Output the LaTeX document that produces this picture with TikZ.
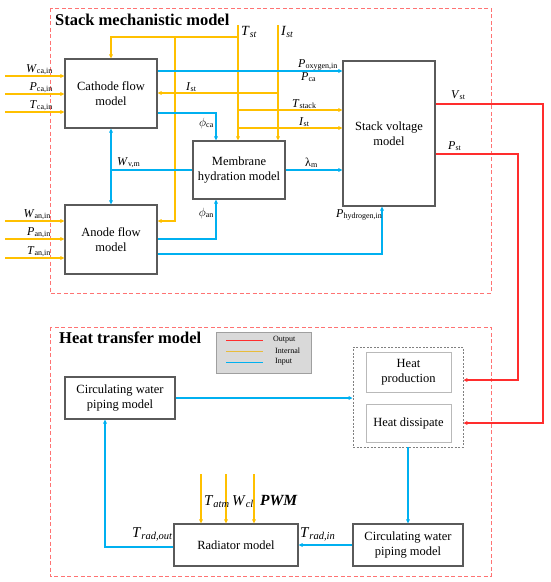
\documentclass[tikz,border=0pt]{standalone}
\usepackage{fontspec}
\setmainfont{Liberation Serif}
\usetikzlibrary{arrows.meta}
\definecolor{ylw}{RGB}{255,192,0}
\definecolor{legylw}{RGB}{232,188,60}
\definecolor{blu}{RGB}{0,176,240}
\definecolor{outred}{RGB}{255,45,45}
\definecolor{framered}{RGB}{255,115,115}
\definecolor{boxgray}{RGB}{90,90,90}
\newcommand{\vsub}[2]{\textit{#1}\textsubscript{#2}}
\newcommand{\isub}[2]{\textit{#1}\textsubscript{\textit{#2}}}
\tikzset{
	model/.style={draw=boxgray, line width=1.1pt, fill=white, align=center, inner sep=0pt, font=\fontsize{12.5}{14.5}\selectfont},
	heat/.style={draw=gray!55, line width=1pt, align=center, inner sep=0pt, minimum width=85pt, font=\fontsize{12.5}{14.5}\selectfont},
	zone/.style={draw=framered, line width=0.9pt, dash pattern=on 4pt off 2.5pt},
	ylwln/.style={ylw, line width=1.1pt},
	bluln/.style={blu, line width=1.1pt},
	redln/.style={outred, line width=1.1pt},
	arr/.style={-{Triangle[length=4pt,width=3.6pt]}},
	arrboth/.style={{Triangle[length=4pt,width=3.6pt]}-{Triangle[length=4pt,width=3.6pt]}},
	lab/.style={inner sep=0pt, font=\fontsize{12}{12}\selectfont},
	biglab/.style={inner sep=0pt, font=\fontsize{15}{15}\selectfont},
	heading/.style={inner sep=0pt, anchor=west, font=\fontsize{16.5}{16.5}\selectfont\bfseries},
	legtext/.style={inner sep=0pt, anchor=west, font=\fontsize{8}{8}\selectfont}
}
\begin{document}
\begin{tikzpicture}[x=1pt,y=-1pt]
	\useasboundingbox (0,0) rectangle (550,582);
	\draw[zone] (50,8) rectangle (491,293);
	\draw[zone] (50,327) rectangle (491,576);
	\node[heading] (ttop) at (55,20) {Stack mechanistic model};
	\node[heading] (tbot) at (59,338) {Heat transfer model};

	\node[model, minimum width=92pt, minimum height=69pt] (cath) at (111,93.5) {Cathode flow\\model};
	\node[model, minimum width=92pt, minimum height=69pt] (anod) at (111,239.5) {Anode flow\\model};
	\node[model, minimum width=92pt, minimum height=58pt] (memb) at (239,170) {Membrane\\hydration model};
	\node[model, minimum width=92pt, minimum height=145pt] (stk) at (389,133.5) {Stack voltage\\model};

	\coordinate (wcain) at (5,76);
	\coordinate (pcain) at (5,94);
	\coordinate (tcain) at (5,112);
	\coordinate (wanin) at (5,221);
	\coordinate (panin) at (5,239);
	\coordinate (tanin) at (5,258);
	\draw[ylwln, arr] (wcain) -- (cath.west |- wcain);
	\draw[ylwln, arr] (pcain) -- (cath.west |- pcain);
	\draw[ylwln, arr] (tcain) -- (cath.west |- tcain);
	\draw[ylwln, arr] (wanin) -- (anod.west |- wanin);
	\draw[ylwln, arr] (panin) -- (anod.west |- panin);
	\draw[ylwln, arr] (tanin) -- (anod.west |- tanin);
	\node[lab, anchor=base east] (lwcain) at (53,72) {\vsub{W}{ca,in}};
	\node[lab, anchor=base east] (lpcain) at (53,90) {\vsub{P}{ca,in}};
	\node[lab, anchor=base east] (ltcain) at (53,108) {\vsub{T}{ca,in}};
	\node[lab, anchor=base east] (lwanin) at (51,217) {\vsub{W}{an,in}};
	\node[lab, anchor=base east] (lpanin) at (51,235) {\vsub{P}{an,in}};
	\node[lab, anchor=base east] (ltanin) at (51,254) {\vsub{T}{an,in}};

	\coordinate (tst) at (238,25);
	\coordinate (ist) at (278,25);
	\coordinate (jan) at (175,37);
	\node[lab, anchor=base west, font=\fontsize{14}{14}\selectfont] (ltst) at (241,35) {\isub{T}{st}};
	\node[lab, anchor=base west, font=\fontsize{14}{14}\selectfont] (list) at (281,35) {\isub{I}{st}};
	\draw[ylwln, arr] (tst) -- (tst |- memb.north);
	\draw[ylwln, arr] (ist) -- (ist |- memb.north);
	\draw[ylwln, arr] (tst |- jan) -| (cath.north);
	\draw[ylwln, arr] (jan) |- (anod.east |- wanin);
	\draw[ylwln, arr] (ist |- 0,93) -- (cath.east |- 0,93);
	\draw[ylwln, arr] (tst |- 0,110) -- (stk.west |- 0,110);
	\draw[ylwln, arr] (tst |- 0,128) -- (stk.west |- 0,128);
	\node[lab, anchor=base west] (list2) at (186,90) {\vsub{I}{st}};
	\node[lab, anchor=base west] (ltstk) at (292,107) {\vsub{T}{stack}};
	\node[lab, anchor=base west] (list3) at (299,125) {\vsub{I}{st}};

	\draw[bluln, arr] (cath.east |- 0,71) -- (stk.west |- 0,71);
	\draw[bluln, arr] (cath.east |- 0,113) -| (memb.north -| 216,0);
	\draw[bluln, arr] (anod.east |- panin) -| (memb.south -| 216,0);
	\draw[bluln, arr] (anod.east |- 0,254) -| (stk.south -| 382,0);
	\draw[bluln, arrboth] (cath.south) -- (anod.north);
	\draw[bluln] (memb.west) -- (cath.south |- memb.west);
	\draw[bluln, arr] (memb.east) -- (stk.west |- memb.east);
	\node[lab, anchor=base west] (lpox) at (298,67) {\vsub{P}{oxygen,in}};
	\node[lab, anchor=base west] (lpca) at (301,80) {\vsub{P}{ca}};
	\node[lab, anchor=base east] (lphica) at (214,126) {$\phi$\textsubscript{ca}};
	\node[lab, anchor=base east] (lphian) at (214,216) {$\phi$\textsubscript{an}};
	\node[lab, anchor=base west] (lwvm) at (117,165) {\vsub{W}{v,m}};
	\node[lab, anchor=base west] (llam) at (305,166) {λ\textsubscript{m}};
	\node[lab, anchor=base west] (lph2) at (336,217) {\vsub{P}{hydrogen,in}};

	\node[draw=gray, line width=0.8pt, dash pattern=on 2pt off 1.5pt, minimum width=110pt, minimum height=100pt, inner sep=0pt] (grp) at (408,397) {};
	\node[heat, minimum height=40pt] (hprod) at (408.5,372) {Heat\\production};
	\node[heat, minimum height=38pt] (hdis) at (408.5,423) {Heat dissipate};
	\node[model, minimum width=110pt, minimum height=42pt] (circl) at (120,398) {Circulating water\\piping model};
	\node[model, minimum width=110pt, minimum height=42pt] (circr) at (408,545) {Circulating water\\piping model};
	\node[model, minimum width=124pt, minimum height=42pt] (rad) at (236,545) {Radiator model};

	\draw[redln, arr] (stk.east |- 0,104) -| (543,300) |- (grp.east |- hdis);
	\draw[redln, arr] (stk.east |- 0,154) -| (518,300) |- (grp.east |- 0,380);
	\node[lab, anchor=base west] (lvst) at (451,98) {\vsub{V}{st}};
	\node[lab, anchor=base west] (lpst) at (448,149) {\vsub{P}{st}};

	\draw[bluln, arr] (circl.east) -- (grp.west |- circl.east);
	\draw[bluln, arr] (grp.south) -- (circr.north);
	\draw[bluln, arr] (circr.west) -- (rad.east |- circr.west);
	\draw[bluln, arr] (rad.west |- 0,547) -| (circl.south -| 105,0);
	\node[biglab, anchor=base west] (ltrin) at (300,537) {\isub{T}{rad,in}};
	\node[biglab, anchor=base east] (ltrout) at (173,537) {\isub{T}{rad,out}};

	\coordinate (tatm) at (201,474);
	\coordinate (wcl) at (226,474);
	\coordinate (pwm) at (254,474);
	\draw[ylwln, arr] (tatm) -- (rad.north -| tatm);
	\draw[ylwln, arr] (wcl) -- (rad.north -| wcl);
	\draw[ylwln, arr] (pwm) -- (rad.north -| pwm);
	\node[biglab, anchor=base west] (ltatm) at (204,505) {\isub{T}{atm}};
	\node[biglab, anchor=base west] (lwcl) at (232,505) {\isub{W}{cl}};
	\node[biglab, anchor=base west, font=\fontsize{15.5}{15.5}\selectfont\bfseries\itshape] (lpwm) at (260,505) {PWM};

	\node[draw=gray!75, fill=gray!30, line width=0.8pt, minimum width=95pt, minimum height=41pt, inner sep=0pt] (leg) at (263.5,352.5) {};
	\draw[outred, line width=1pt] (226,340) -- (263,340);
	\draw[legylw, line width=1pt] (226,351) -- (263,351);
	\draw[blu, line width=1pt] (226,362) -- (263,362);
	\node[legtext] (lout) at (273,340) {Output};
	\node[legtext] (lint) at (275,351) {Internal};
	\node[legtext] (linp) at (275,362) {Input};
\end{tikzpicture}
\end{document}
